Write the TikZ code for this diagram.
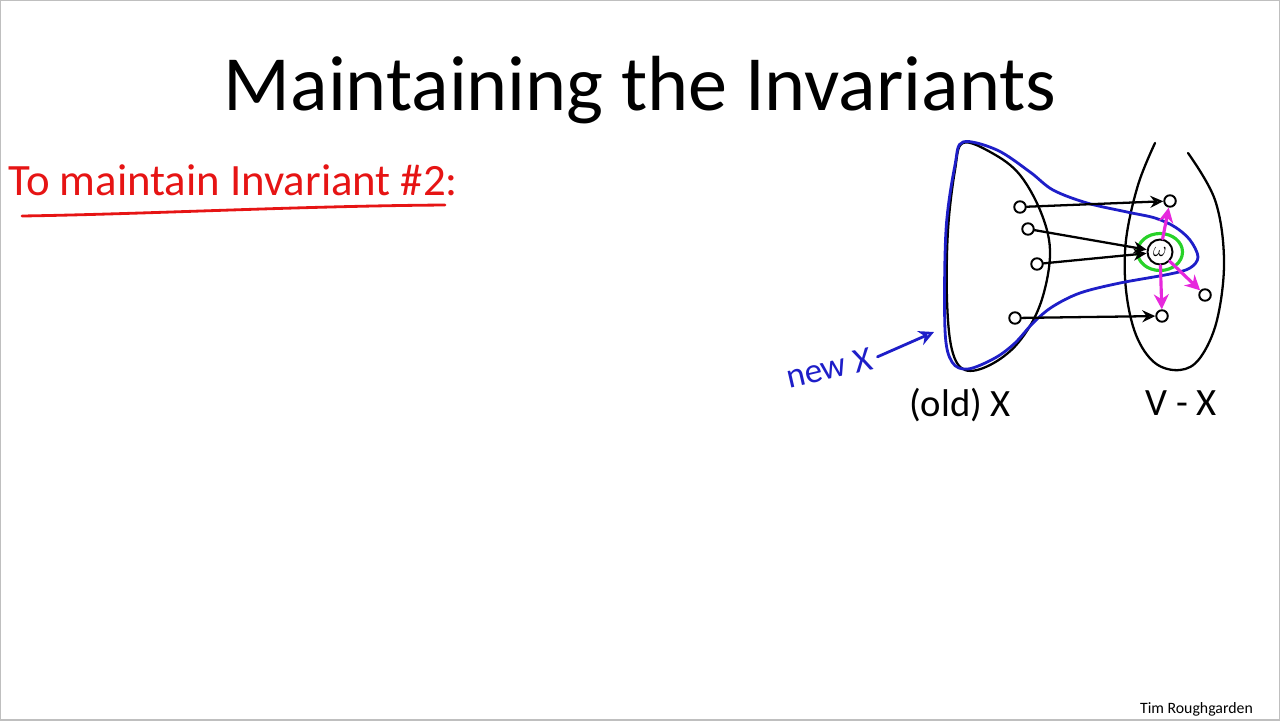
\documentclass[tikz,border=0pt]{standalone}
\usepackage{fontspec}
\setmainfont{Carlito}
\usetikzlibrary{arrows.meta}
\definecolor{inkred}{RGB}{230,20,20}
\definecolor{inkblue}{RGB}{30,30,200}
\definecolor{inkgreen}{RGB}{40,210,40}
\definecolor{inkpink}{RGB}{230,40,220}

\begin{document}
\begin{tikzpicture}[x=0.02cm, y=-0.02cm]
% -------------------------------------------------
\tikzset{
  vtx/.style={draw, circle, line width=1.1pt, inner sep=0pt, minimum size=2.3mm},
  hand/.style={font=\fontsize{22}{24}\selectfont},
  ink/.style={line width=1.3pt, line cap=round, line join=round},
  arr/.style={ink, -{Stealth[length=2.6mm, width=2.4mm, open]}},
  parr/.style={ink, inkpink, line width=1.8pt, -{Stealth[length=3mm, width=3mm]}}
}
% -------------------------------------------------
\useasboundingbox (0,0) rectangle (1280,720);
\draw[gray!50, line width=0.6pt] (0,0) rectangle (1280,720);

\node[font=\fontsize{44.5}{50}\selectfont] (title) at (640,90) {Maintaining the Invariants};
\node[font=\fontsize{9}{10}\selectfont, anchor=east] (credit) at (1259,709) {Tim Roughgarden};

% red heading with its underline
\node[hand, inkred, anchor=west, font=\fontsize{25.5}{28}\selectfont] (goal) at (2,180) {To maintain Invariant \#2:};
\coordinate (ul1) at (22,216);
\coordinate (ul2) at (445,205);
\draw[ink, inkred, line width=1.6pt] (ul1) .. controls (150,214) and (300,206) .. (ul2);

% -------------------------------------------------
% the two sides of the cut
\draw[ink] plot[smooth cycle, tension=0.6] coordinates {(963,143) (992,153) (1020,175) (1042,215)
  (1050,255) (1040,305) (1018,343) (990,365) (965,370) (952,350) (947,300) (948,230) (955,170)};
\draw[ink] plot[smooth, tension=0.6] coordinates {(1155,143) (1138,185) (1126,240) (1126,290)
  (1136,335) (1155,363) (1180,370) (1200,358) (1217,320) (1224,260) (1215,200) (1188,153)};
\draw[ink, inkblue, line width=1.6pt] plot[smooth cycle, tension=0.55] coordinates {(963,142)
  (997,150) (1030,172) (1053,190) (1087,203) (1127,212) (1155,218) (1175,227) (1190,240)
  (1198,257) (1190,268) (1170,274) (1120,283) (1080,293) (1052,307) (1033,323) (1015,343)
  (995,358) (968,369) (952,362) (945,330) (946,230) (955,165)};

% -------------------------------------------------
% vertices
\node[vtx] (u1) at (1020,207) {};
\node[vtx] (u2) at (1028,229) {};
\node[vtx] (u3) at (1037,264) {};
\node[vtx] (u4) at (1015,318) {};
\node[vtx] (t1) at (1170,201) {};
\node[vtx] (t2) at (1205,295) {};
\node[vtx] (t3) at (1162,316) {};
\node[vtx, minimum size=5mm, font=\large] (w) at (1160,252) {$\omega$};
\draw[ink, inkgreen, line width=1.8pt] (w) ellipse [x radius=0.45cm, y radius=0.37cm];

\draw[arr] (u1) -- (t1);
\draw[arr] (u2) -- (w);
\draw[arr] (u3) -- (w);
\draw[arr] (u4) -- (t3);

\draw[parr] (w) -- (t1);
\draw[parr] (w) -- (t3);
\draw[parr] (w) -- (t2);

% -------------------------------------------------
% labels
\node[hand, inkblue, rotate=13, font=\fontsize{20}{22}\selectfont] (newx) at (829,368) {new X};
\coordinate (tip) at (934,332);
\draw[ink, inkblue, line width=1.6pt, -{Stealth[length=3mm, width=3mm, open]}] (newx.east) -- (tip);
\node[hand] (oldx) at (960,405) {(old) X};
\node[hand] (rest) at (1181,403) {V - X};

\end{tikzpicture}
\end{document}
